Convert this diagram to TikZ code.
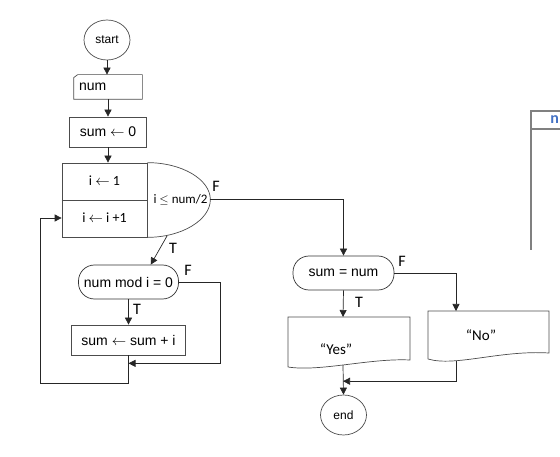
\documentclass[tikz,border=0pt]{standalone}
\usepackage{fontspec}
\setmainfont{Liberation Sans}
\newfontfamily\calib{Carlito}
\usetikzlibrary{arrows.meta,shapes.geometric}
\definecolor{headblue}{RGB}{68,114,196}

\begin{document}
\begin{tikzpicture}[x=1pt, y=-1pt, line width=0.7pt,
    every node/.style={font=\fontsize{14}{16}\selectfont, inner sep=0pt},
    term/.style={draw=black!70, ellipse, minimum width=46pt, minimum height=40pt, font=\fontsize{12}{14}\selectfont},
    proc/.style={draw=black!70, rectangle, minimum height=30pt},
    cond/.style={draw=black!80, rectangle, rounded corners=16pt, minimum height=34pt},
    flow/.style={draw=black!85, -{Triangle[length=7pt,width=7pt]}},
    calibtxt/.style={font=\calib\fontsize{14}{16}\selectfont},
    bigtxt/.style={font=\calib\fontsize{15}{17}\selectfont},
    tf/.style={font=\calib\fontsize{16}{18}\selectfont},
    tableline/.style={draw=black!50, line width=1.2pt}]

\useasboundingbox (0,0) rectangle (560,457);

%%%%%%%%%%%%%%%%%%%%%% LEFT COLUMN %%%%%%%%%%%%%%%%%%%%%%

% start and input
\node (start) [term] at (107,40) {start};

\node (numbox) [minimum width=68pt, minimum height=24pt] at (108,87) {};
\draw [draw=black!70] (numbox.south west) -- ([yshift=-3pt]numbox.north west)
    -- ([xshift=4pt]numbox.north west) -- (numbox.north east)
    -- (numbox.south east) -- cycle;
    \node (num) [anchor=west] at ([xshift=5pt]numbox.west) {num};

\node (sumzero) [proc, minimum width=77pt] at (108,132) {sum $\leftarrow$ 0};

\draw [flow] (start.south) to (start.south |- numbox.north);
\draw [flow] (numbox.south) to (sumzero.north);

% loop block
\node (loop) [proc, minimum width=85pt, minimum height=74pt] at (104.5,200) {};
    \draw [draw=black!70] (loop.west) to (loop.east);
\draw [draw=black!70] (loop.north east) .. controls +(35,0) and +(0,-20) .. ++(63,37)
    coordinate (looptip) .. controls +(0,20) and +(35,0) .. (loop.south east);
    \node (init) [calibtxt] at (104.5,181) {i $\leftarrow$ 1};
    \node (incr) [calibtxt] at (104.5,218) {i $\leftarrow$ i +1};
    \node (test) [calibtxt, font=\calib\fontsize{13}{15}\selectfont] at (180.5,200) {i $\leq$ num/2};

\draw [flow] (sumzero.south) to (sumzero.south |- loop.north);

% loop body
\node (nummod) [cond, minimum width=100pt] at (128.5,282) {num mod i = 0};
\node (sumadd) [proc, minimum width=114pt] at (128.5,340) {sum $\leftarrow$ sum + i};
\coordinate (loopout) at (167,236);
\coordinate (sumjoin) at ([yshift=-8pt]sumadd.south);

\draw [flow] (loopout) to (nummod.38);
    \node (tloop) [tf] at (173,248) {T};
\draw [flow] (nummod.south) to (sumadd.north);
    \node (tmod) [tf] at (137,309) {T};
\draw [flow] (nummod.east) -- ++(41,0) |- (sumjoin);
    \node (fmod) [tf] at (188,270) {F};
\draw [flow] (sumadd.south) -- ++(0,28) -- ++(-88,0) |- (incr -| loop.west);

%%%%%%%%%%%%%%%%%%%%%% RIGHT PART %%%%%%%%%%%%%%%%%%%%%%

\node (sumnum) [cond, minimum width=101pt] at (343.5,273) {sum = num};

\draw [flow] (looptip) -| (sumnum.north);
    \node (floop) [tf] at (216,186) {F};

% output "Yes"
\draw [draw=black!70] (288,367) -- (288,317) -- (410,317) -- (410,360)
    .. controls (370,358) and (320,372) .. (288,367);
    \node (yes) [bigtxt] at (336,349) {“Yes”};
\coordinate (yestop) at (343,317);
\coordinate (yesout) at (343,365.2);

% output "No"
\draw [draw=black!70] (428,359) -- (428,311) -- (549,311) -- (549,353)
    .. controls (500,350) and (455,367) .. (428,359);
    \node (no) [bigtxt] at (481,335) {“No”};
\coordinate (notop) at (456,311);
\coordinate (noout) at (456,360.6);

\draw [flow] (sumnum.south) to (yestop);
    \node (tsum) [tf] at (359,302) {T};
\draw [flow] (sumnum.east) -| (notop);
    \node (fsum) [tf] at (402,261) {F};

% end
\node (stop) [term] at (343.5,415) {end};
\draw [flow] (noout) |- ([yshift=-16pt]yesout);
\draw [flow] (yesout) to (stop.north);

% table edge at the right border
\draw [tableline] (531,250) -- (531,111) -- (564,111);
\draw [tableline] (531,129) -- (564,129);
    \node (colhead) [anchor=west, text=headblue, font=\calib\bfseries\fontsize{16}{18}\selectfont] at (550,120) {n};

\end{tikzpicture}
\end{document}
